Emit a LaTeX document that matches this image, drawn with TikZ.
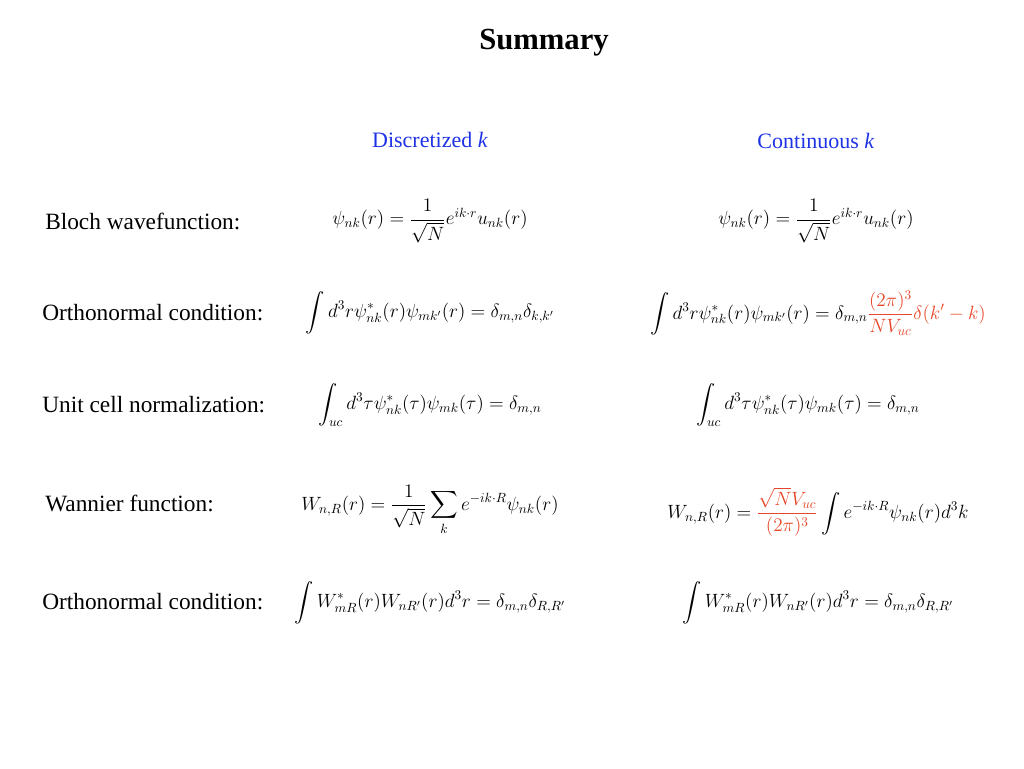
\documentclass[tikz,border=0pt]{standalone}
\usepackage{amsmath}
\usepackage{fontspec}
\setmainfont{Liberation Serif}
\definecolor{hblue}{RGB}{30,50,230}
\definecolor{hred}{RGB}{232,70,40}
\tikzset{lab/.style={anchor=west,inner sep=0pt,font=\fontsize{17.5}{21}\selectfont},
 eq/.style={font=\fontsize{14}{17}\selectfont},
 head/.style={text=hblue,font=\fontsize{16.5}{19}\selectfont}}
\begin{document}
\begin{tikzpicture}[x=0.75pt,y=-0.75pt]
\useasboundingbox (0,0) rectangle (1024,768);
\node[font=\fontsize{23}{27}\selectfont\bfseries] (t) at (544,43) {Summary};
\node[head] (h1) at (430,140) {Discretized \textit{k}};
\node[head] (h2) at (816,141) {Continuous \textit{k}};
\node[lab] (l1) at (45,221) {Bloch wavefunction:};
\node[lab] (l2) at (42,313) {Orthonormal condition:};
\node[lab] (l3) at (42,405) {Unit cell normalization:};
\node[lab] (l4) at (45,503) {Wannier function:};
\node[lab] (l5) at (42,602) {Orthonormal condition:};
\node[eq] (a1) at (430,221) {$\psi_{nk}(r)=\dfrac{1}{\sqrt N}e^{ik\cdot r}u_{nk}(r)$};
\node[eq] (b1) at (816,221) {$\psi_{nk}(r)=\dfrac{1}{\sqrt N}e^{ik\cdot r}u_{nk}(r)$};
\node[eq] (a2) at (430,313) {$\displaystyle\int d^3r\psi^*_{nk}(r)\psi_{mk'}(r)=\delta_{m,n}\delta_{k,k'}$};
\node[eq] (b2) at (818,313) {$\displaystyle\int d^3r\psi^*_{nk}(r)\psi_{mk'}(r)=\delta_{m,n}\textcolor{hred}{\frac{(2\pi)^3}{NV_{uc}}\delta(k'-k)}$};
\node[eq] (a3) at (430,405) {$\displaystyle\int_{uc} d^3\tau\psi^*_{nk}(\tau)\psi_{mk}(\tau)=\delta_{m,n}$};
\node[eq] (b3) at (808,405) {$\displaystyle\int_{uc} d^3\tau\psi^*_{nk}(\tau)\psi_{mk}(\tau)=\delta_{m,n}$};
\node[eq] (a4) at (430,510) {$\displaystyle W_{n,R}(r)=\frac{1}{\sqrt N}\sum_k e^{-ik\cdot R}\psi_{nk}(r)$};
\node[eq] (b4) at (818,512) {$\displaystyle W_{n,R}(r)=\textcolor{hred}{\frac{\sqrt{N}V_{uc}}{(2\pi)^3}}\int e^{-ik\cdot R}\psi_{nk}(r)d^3k$};
\node[eq] (a5) at (430,603) {$\displaystyle\int W^*_{mR}(r)W_{nR'}(r)d^3r=\delta_{m,n}\delta_{R,R'}$};
\node[eq] (b5) at (818,603) {$\displaystyle\int W^*_{mR}(r)W_{nR'}(r)d^3r=\delta_{m,n}\delta_{R,R'}$};
\end{tikzpicture}
\end{document}
